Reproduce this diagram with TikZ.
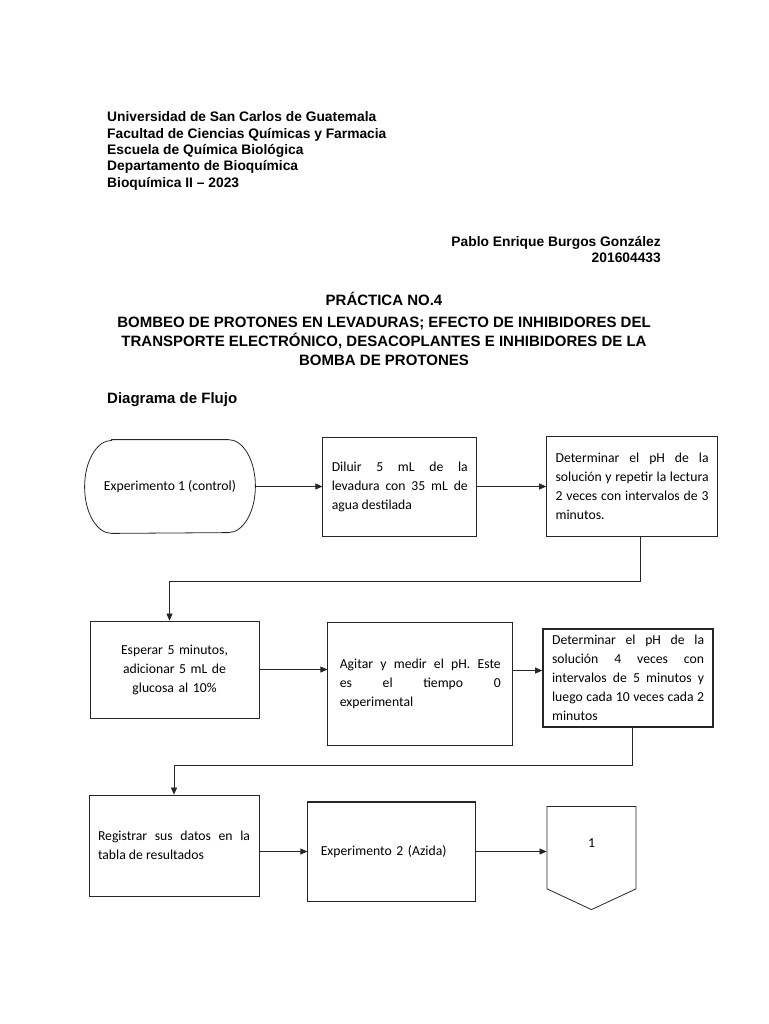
\documentclass[tikz,border=0pt]{standalone}
\usepackage{fontspec}
\setmainfont{Carlito}
\newfontfamily\arialfont{Liberation Sans}
\usetikzlibrary{positioning,arrows.meta,shapes.misc,shapes.symbols}
\newcommand\cajafont{\fontsize{13.7}{19}\selectfont\hyphenpenalty 10000 \tolerance 10000 }

\tikzset{
  hdr/.style={font=\arialfont\bfseries\fontsize{13.8}{16.3}\selectfont, inner sep=0pt},
  titulo/.style={hdr, font=\arialfont\bfseries\fontsize{15}{17}\selectfont, anchor=base},
  flowbox/.style={draw=black!85, line width=0.8pt, inner xsep=9pt, inner ysep=4pt, font=\cajafont},
  flowarrow/.style={draw=black!85, line width=0.7pt, -{Triangle[length=7pt,width=6pt]}}
}

\begin{document}
\begin{tikzpicture}[x=1pt,y=-1pt]
  \useasboundingbox (0,0) rectangle (768,1024);
  % encabezado
  \foreach \t [count=\i] in {Universidad de San Carlos de Guatemala, Facultad de Ciencias Químicas y Farmacia,
      Escuela de Química Biológica, Departamento de Bioquímica, Bioquímica II – 2023}
    \node[hdr, anchor=base west] (hdr\i) at (107,{122+16.3*(\i-1)}) {\t};
  \node[hdr, anchor=base east] (autor) at (661,246) {Pablo Enrique Burgos González};
  \node[hdr, anchor=base east] (carne) at (661,262) {201604433};
  \node[titulo] (titulo1) at (384,305) {PRÁCTICA NO.4};
  \node[titulo] (titulo2) at (384,327) {BOMBEO DE PROTONES EN LEVADURAS; EFECTO DE INHIBIDORES DEL};
  \node[titulo] (titulo3) at (384,346) {TRANSPORTE ELECTRÓNICO, DESACOPLANTES E INHIBIDORES DE LA};
  \node[titulo] (titulo4) at (384,365) {BOMBA DE PROTONES};
  \node[titulo, anchor=base west] (diagrama) at (107,403) {Diagrama de Flujo};

  % fila 1
  \node[flowbox, draw=none, minimum width=170pt, minimum height=93pt] (exp1) at (170,486.5)
    {Experimento 1 (control)};
  \draw[draw=black!85, line width=0.8pt] ([xshift=27pt]exp1.north west) -- ([xshift=-27pt]exp1.north east)
    arc[start angle=90, end angle=-90, x radius=27pt, y radius=46.5pt] -- ([xshift=27pt]exp1.south west)
    arc[start angle=270, end angle=90, x radius=27pt, y radius=46.5pt] -- cycle;
  \node[flowbox, align=justify, text width=136pt, minimum height=99pt, right=67pt of exp1] (diluir)
    {Diluir 5 mL de la\linebreak levadura con 35 mL de\linebreak agua destilada};
  \node[flowbox, align=justify, text width=153pt, minimum height=100pt, right=69pt of diluir] (ph1)
    {Determinar el pH de la\linebreak solución y repetir la lectura\linebreak 2 veces con intervalos de 3\linebreak minutos.};

  % fila 2
  \node[flowbox, align=center, text width=151pt, minimum height=97pt] (esperar) at (174.5,669.5)
    {Esperar 5 minutos,\\ adicionar 5 mL de\\ glucosa al 10\%};
  \node[flowbox, align=justify, inner xsep=12pt, text width=161pt, minimum height=123pt,
    right=68pt of esperar, yshift=-14pt] (agitar)
    {Agitar y medir el pH. Este\linebreak es el tiempo 0\linebreak experimental};
  \node[flowbox, align=justify, line width=1.8pt, text width=152pt, minimum height=98pt,
    right=29pt of agitar, yshift=5.5pt] (ph2)
    {Determinar el pH de la\linebreak solución 4 veces con\linebreak intervalos de 5 minutos y\linebreak luego cada 10 veces cada 2\linebreak minutos};

  % fila 3
  \node[flowbox, align=justify, text width=152pt, minimum height=101pt] (registrar) at (174,845.5)
    {Registrar sus datos en la\linebreak tabla de resultados};
  \node[flowbox, align=left, inner xsep=13pt, text width=142pt, minimum height=99pt,
    right=48pt of registrar, yshift=-6pt] (exp2)
    {Experimento 2 (Azida)};
  \draw[draw=black!85, line width=1.6pt] (exp2.north west) -- (exp2.north east);
  \node[draw=black!85, line width=0.8pt, signal, signal to=south, signal pointer angle=130,
    minimum width=89pt, minimum height=84pt, anchor=north,
    label={[yshift=5pt, font=\cajafont]center:1}] (conector) at (591.5,806) {};

  % flechas
  \draw[flowarrow] (exp1) -- (diluir);
  \draw[flowarrow] (diluir) -- (ph1);
  \draw[flowarrow] ([xshift=8pt]ph1.south) -- ++(0,44) -| ([xshift=-5pt]esperar.north);
  \draw[flowarrow] (esperar.east) -- (esperar.east -| agitar.west);
  \draw[flowarrow] ([yshift=13pt]agitar.east) -- ([yshift=13pt]agitar.east -| ph2.west);
  \draw[flowarrow] ([xshift=4pt]ph2.south) -- ++(0,37) -| (registrar.north);
  \draw[flowarrow] (registrar.east |- exp2.west) -- (exp2.west);
  \draw[flowarrow] (exp2.east) -- (exp2.east -| conector.west);
\end{tikzpicture}
\end{document}
